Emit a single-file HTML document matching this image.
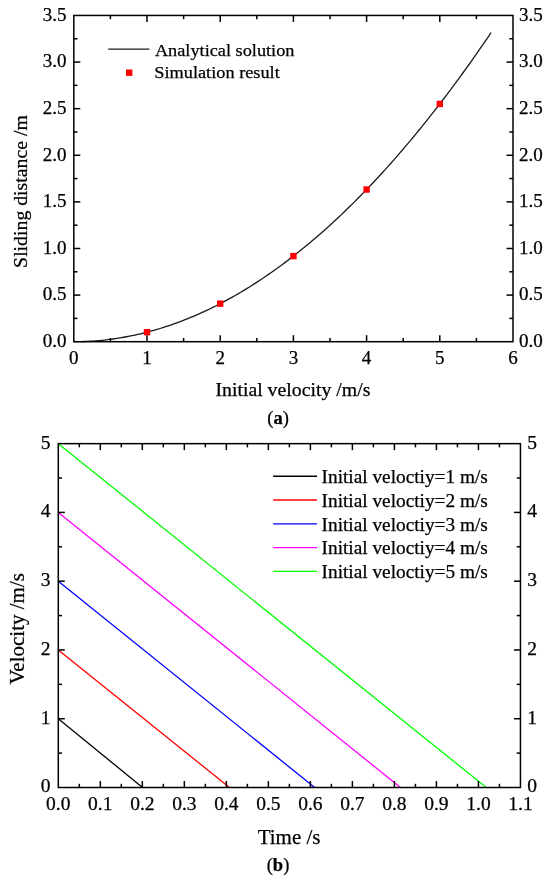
<!DOCTYPE html>
<html><head><meta charset="utf-8"><title>Sliding distance and velocity plots</title><style>
html,body{margin:0;padding:0;background:#fff;}
svg{display:block;}
text{font-family:"Liberation Serif", "Times New Roman", serif;fill:#000;stroke:#000;stroke-width:0.25px;}
</style></head><body>
<svg width="550" height="880" viewBox="0 0 550 880">
<rect width="550" height="880" fill="#fff"/>
<polyline points="73.80,341.70 76.58,341.69 79.36,341.65 82.14,341.58 84.93,341.48 87.71,341.36 90.49,341.21 93.27,341.03 96.05,340.82 98.83,340.59 101.62,340.33 104.40,340.04 107.18,339.72 109.96,339.38 112.74,339.01 115.52,338.61 118.31,338.18 121.09,337.73 123.87,337.25 126.65,336.74 129.43,336.21 132.21,335.64 135.00,335.05 137.78,334.43 140.56,333.79 143.34,333.12 146.12,332.42 148.90,331.69 151.68,330.93 154.47,330.15 157.25,329.34 160.03,328.50 162.81,327.64 165.59,326.74 168.37,325.82 171.16,324.87 173.94,323.90 176.72,322.90 179.50,321.87 182.28,320.81 185.06,319.72 187.85,318.61 190.63,317.47 193.41,316.30 196.19,315.11 198.97,313.89 201.75,312.64 204.54,311.36 207.32,310.05 210.10,308.72 212.88,307.36 215.66,305.98 218.44,304.56 221.22,303.12 224.01,301.65 226.79,300.15 229.57,298.63 232.35,297.08 235.13,295.50 237.91,293.89 240.70,292.25 243.48,290.59 246.26,288.90 249.04,287.19 251.82,285.44 254.60,283.67 257.39,281.87 260.17,280.04 262.95,278.19 265.73,276.31 268.51,274.40 271.29,272.46 274.08,270.50 276.86,268.51 279.64,266.49 282.42,264.44 285.20,262.37 287.98,260.27 290.76,258.14 293.55,255.98 296.33,253.80 299.11,251.59 301.89,249.35 304.67,247.08 307.45,244.79 310.24,242.47 313.02,240.12 315.80,237.74 318.58,235.34 321.36,232.91 324.14,230.45 326.93,227.96 329.71,225.45 332.49,222.91 335.27,220.34 338.05,217.74 340.83,215.12 343.62,212.47 346.40,209.79 349.18,207.08 351.96,204.35 354.74,201.59 357.52,198.80 360.30,195.99 363.09,193.14 365.87,190.27 368.65,187.38 371.43,184.45 374.21,181.50 376.99,178.52 379.78,175.51 382.56,172.47 385.34,169.41 388.12,166.32 390.90,163.20 393.68,160.06 396.47,156.88 399.25,153.68 402.03,150.46 404.81,147.20 407.59,143.92 410.37,140.61 413.16,137.27 415.94,133.91 418.72,130.51 421.50,127.09 424.28,123.65 427.06,120.17 429.84,116.67 432.63,113.14 435.41,109.58 438.19,106.00 440.97,102.38 443.75,98.74 446.53,95.08 449.32,91.38 452.10,87.66 454.88,83.91 457.66,80.13 460.44,76.33 463.22,72.50 466.01,68.64 468.79,64.75 471.57,60.84 474.35,56.89 477.13,52.92 479.91,48.93 482.70,44.90 485.48,40.85 488.26,36.77 491.04,32.67" fill="none" stroke="#1a1a1a" stroke-width="1.3"/>
<rect x="143.80" y="328.99" width="6.4" height="6.4" fill="#ff0000"/>
<rect x="217.00" y="300.45" width="6.4" height="6.4" fill="#ff0000"/>
<rect x="290.20" y="252.90" width="6.4" height="6.4" fill="#ff0000"/>
<rect x="363.40" y="186.31" width="6.4" height="6.4" fill="#ff0000"/>
<rect x="436.60" y="100.71" width="6.4" height="6.4" fill="#ff0000"/>
<line x1="110.40" y1="341.70" x2="110.40" y2="338.00" stroke="#000" stroke-width="1.5" />
<line x1="110.40" y1="15.45" x2="110.40" y2="19.15" stroke="#000" stroke-width="1.5" />
<line x1="147.00" y1="341.70" x2="147.00" y2="335.20" stroke="#000" stroke-width="1.5" />
<line x1="147.00" y1="15.45" x2="147.00" y2="21.95" stroke="#000" stroke-width="1.5" />
<line x1="183.60" y1="341.70" x2="183.60" y2="338.00" stroke="#000" stroke-width="1.5" />
<line x1="183.60" y1="15.45" x2="183.60" y2="19.15" stroke="#000" stroke-width="1.5" />
<line x1="220.20" y1="341.70" x2="220.20" y2="335.20" stroke="#000" stroke-width="1.5" />
<line x1="220.20" y1="15.45" x2="220.20" y2="21.95" stroke="#000" stroke-width="1.5" />
<line x1="256.80" y1="341.70" x2="256.80" y2="338.00" stroke="#000" stroke-width="1.5" />
<line x1="256.80" y1="15.45" x2="256.80" y2="19.15" stroke="#000" stroke-width="1.5" />
<line x1="293.40" y1="341.70" x2="293.40" y2="335.20" stroke="#000" stroke-width="1.5" />
<line x1="293.40" y1="15.45" x2="293.40" y2="21.95" stroke="#000" stroke-width="1.5" />
<line x1="330.00" y1="341.70" x2="330.00" y2="338.00" stroke="#000" stroke-width="1.5" />
<line x1="330.00" y1="15.45" x2="330.00" y2="19.15" stroke="#000" stroke-width="1.5" />
<line x1="366.60" y1="341.70" x2="366.60" y2="335.20" stroke="#000" stroke-width="1.5" />
<line x1="366.60" y1="15.45" x2="366.60" y2="21.95" stroke="#000" stroke-width="1.5" />
<line x1="403.20" y1="341.70" x2="403.20" y2="338.00" stroke="#000" stroke-width="1.5" />
<line x1="403.20" y1="15.45" x2="403.20" y2="19.15" stroke="#000" stroke-width="1.5" />
<line x1="439.80" y1="341.70" x2="439.80" y2="335.20" stroke="#000" stroke-width="1.5" />
<line x1="439.80" y1="15.45" x2="439.80" y2="21.95" stroke="#000" stroke-width="1.5" />
<line x1="476.40" y1="341.70" x2="476.40" y2="338.00" stroke="#000" stroke-width="1.5" />
<line x1="476.40" y1="15.45" x2="476.40" y2="19.15" stroke="#000" stroke-width="1.5" />
<line x1="73.80" y1="318.40" x2="77.50" y2="318.40" stroke="#000" stroke-width="1.5" />
<line x1="513.00" y1="318.40" x2="509.30" y2="318.40" stroke="#000" stroke-width="1.5" />
<line x1="73.80" y1="295.09" x2="80.30" y2="295.09" stroke="#000" stroke-width="1.5" />
<line x1="513.00" y1="295.09" x2="506.50" y2="295.09" stroke="#000" stroke-width="1.5" />
<line x1="73.80" y1="271.79" x2="77.50" y2="271.79" stroke="#000" stroke-width="1.5" />
<line x1="513.00" y1="271.79" x2="509.30" y2="271.79" stroke="#000" stroke-width="1.5" />
<line x1="73.80" y1="248.49" x2="80.30" y2="248.49" stroke="#000" stroke-width="1.5" />
<line x1="513.00" y1="248.49" x2="506.50" y2="248.49" stroke="#000" stroke-width="1.5" />
<line x1="73.80" y1="225.18" x2="77.50" y2="225.18" stroke="#000" stroke-width="1.5" />
<line x1="513.00" y1="225.18" x2="509.30" y2="225.18" stroke="#000" stroke-width="1.5" />
<line x1="73.80" y1="201.88" x2="80.30" y2="201.88" stroke="#000" stroke-width="1.5" />
<line x1="513.00" y1="201.88" x2="506.50" y2="201.88" stroke="#000" stroke-width="1.5" />
<line x1="73.80" y1="178.57" x2="77.50" y2="178.57" stroke="#000" stroke-width="1.5" />
<line x1="513.00" y1="178.57" x2="509.30" y2="178.57" stroke="#000" stroke-width="1.5" />
<line x1="73.80" y1="155.27" x2="80.30" y2="155.27" stroke="#000" stroke-width="1.5" />
<line x1="513.00" y1="155.27" x2="506.50" y2="155.27" stroke="#000" stroke-width="1.5" />
<line x1="73.80" y1="131.97" x2="77.50" y2="131.97" stroke="#000" stroke-width="1.5" />
<line x1="513.00" y1="131.97" x2="509.30" y2="131.97" stroke="#000" stroke-width="1.5" />
<line x1="73.80" y1="108.66" x2="80.30" y2="108.66" stroke="#000" stroke-width="1.5" />
<line x1="513.00" y1="108.66" x2="506.50" y2="108.66" stroke="#000" stroke-width="1.5" />
<line x1="73.80" y1="85.36" x2="77.50" y2="85.36" stroke="#000" stroke-width="1.5" />
<line x1="513.00" y1="85.36" x2="509.30" y2="85.36" stroke="#000" stroke-width="1.5" />
<line x1="73.80" y1="62.06" x2="80.30" y2="62.06" stroke="#000" stroke-width="1.5" />
<line x1="513.00" y1="62.06" x2="506.50" y2="62.06" stroke="#000" stroke-width="1.5" />
<line x1="73.80" y1="38.75" x2="77.50" y2="38.75" stroke="#000" stroke-width="1.5" />
<line x1="513.00" y1="38.75" x2="509.30" y2="38.75" stroke="#000" stroke-width="1.5" />
<rect x="73.80" y="15.45" width="439.20" height="326.25" fill="none" stroke="#000" stroke-width="1.5"/>
<text x="73.80" y="363.50" font-size="19" text-anchor="middle" >0</text>
<text x="147.00" y="363.50" font-size="19" text-anchor="middle" >1</text>
<text x="220.20" y="363.50" font-size="19" text-anchor="middle" >2</text>
<text x="293.40" y="363.50" font-size="19" text-anchor="middle" >3</text>
<text x="366.60" y="363.50" font-size="19" text-anchor="middle" >4</text>
<text x="439.80" y="363.50" font-size="19" text-anchor="middle" >5</text>
<text x="513.00" y="363.50" font-size="19" text-anchor="middle" >6</text>
<text x="66.50" y="347.00" font-size="19" text-anchor="end" >0.0</text>
<text x="519.10" y="347.00" font-size="19" text-anchor="start" >0.0</text>
<text x="66.50" y="300.39" font-size="19" text-anchor="end" >0.5</text>
<text x="519.10" y="300.39" font-size="19" text-anchor="start" >0.5</text>
<text x="66.50" y="253.79" font-size="19" text-anchor="end" >1.0</text>
<text x="519.10" y="253.79" font-size="19" text-anchor="start" >1.0</text>
<text x="66.50" y="207.18" font-size="19" text-anchor="end" >1.5</text>
<text x="519.10" y="207.18" font-size="19" text-anchor="start" >1.5</text>
<text x="66.50" y="160.57" font-size="19" text-anchor="end" >2.0</text>
<text x="519.10" y="160.57" font-size="19" text-anchor="start" >2.0</text>
<text x="66.50" y="113.96" font-size="19" text-anchor="end" >2.5</text>
<text x="519.10" y="113.96" font-size="19" text-anchor="start" >2.5</text>
<text x="66.50" y="67.36" font-size="19" text-anchor="end" >3.0</text>
<text x="519.10" y="67.36" font-size="19" text-anchor="start" >3.0</text>
<text x="66.50" y="20.75" font-size="19" text-anchor="end" >3.5</text>
<text x="519.10" y="20.75" font-size="19" text-anchor="start" >3.5</text>
<line x1="108.20" y1="49.20" x2="149.50" y2="49.20" stroke="#1a1a1a" stroke-width="1.3" />
<rect x="126.00" y="69.50" width="6.4" height="6.4" fill="#ff0000"/>
<text x="154.90" y="55.80" font-size="17.6" text-anchor="start" textLength="139.6" lengthAdjust="spacingAndGlyphs">Analytical solution</text>
<text x="154.30" y="78.10" font-size="17.6" text-anchor="start" textLength="125.5" lengthAdjust="spacingAndGlyphs">Simulation result</text>
<text x="292.90" y="396.30" font-size="19.8" text-anchor="middle" >Initial velocity /m/s</text>
<text x="0" y="0" font-size="19.8" text-anchor="middle" transform="translate(26.8,191.5) rotate(-90)">Sliding distance /m</text>
<text x="278" y="423.7" font-size="18.5" text-anchor="middle">(<tspan font-weight="bold">a</tspan>)</text>
<line x1="58.30" y1="718.73" x2="142.54" y2="787.50" stroke="#000000" stroke-width="1.3" />
<line x1="58.30" y1="649.96" x2="229.51" y2="787.50" stroke="#ff0000" stroke-width="1.3" />
<line x1="58.30" y1="581.19" x2="314.71" y2="787.50" stroke="#0000ff" stroke-width="1.3" />
<line x1="58.30" y1="512.42" x2="400.50" y2="787.50" stroke="#ff00ff" stroke-width="1.3" />
<line x1="58.30" y1="443.65" x2="486.33" y2="787.50" stroke="#00ff00" stroke-width="1.3" />
<line x1="79.31" y1="787.50" x2="79.31" y2="783.80" stroke="#000" stroke-width="1.5" />
<line x1="79.31" y1="443.65" x2="79.31" y2="447.35" stroke="#000" stroke-width="1.5" />
<line x1="100.31" y1="787.50" x2="100.31" y2="781.00" stroke="#000" stroke-width="1.5" />
<line x1="100.31" y1="443.65" x2="100.31" y2="450.15" stroke="#000" stroke-width="1.5" />
<line x1="121.32" y1="787.50" x2="121.32" y2="783.80" stroke="#000" stroke-width="1.5" />
<line x1="121.32" y1="443.65" x2="121.32" y2="447.35" stroke="#000" stroke-width="1.5" />
<line x1="142.33" y1="787.50" x2="142.33" y2="781.00" stroke="#000" stroke-width="1.5" />
<line x1="142.33" y1="443.65" x2="142.33" y2="450.15" stroke="#000" stroke-width="1.5" />
<line x1="163.33" y1="787.50" x2="163.33" y2="783.80" stroke="#000" stroke-width="1.5" />
<line x1="163.33" y1="443.65" x2="163.33" y2="447.35" stroke="#000" stroke-width="1.5" />
<line x1="184.34" y1="787.50" x2="184.34" y2="781.00" stroke="#000" stroke-width="1.5" />
<line x1="184.34" y1="443.65" x2="184.34" y2="450.15" stroke="#000" stroke-width="1.5" />
<line x1="205.35" y1="787.50" x2="205.35" y2="783.80" stroke="#000" stroke-width="1.5" />
<line x1="205.35" y1="443.65" x2="205.35" y2="447.35" stroke="#000" stroke-width="1.5" />
<line x1="226.35" y1="787.50" x2="226.35" y2="781.00" stroke="#000" stroke-width="1.5" />
<line x1="226.35" y1="443.65" x2="226.35" y2="450.15" stroke="#000" stroke-width="1.5" />
<line x1="247.36" y1="787.50" x2="247.36" y2="783.80" stroke="#000" stroke-width="1.5" />
<line x1="247.36" y1="443.65" x2="247.36" y2="447.35" stroke="#000" stroke-width="1.5" />
<line x1="268.37" y1="787.50" x2="268.37" y2="781.00" stroke="#000" stroke-width="1.5" />
<line x1="268.37" y1="443.65" x2="268.37" y2="450.15" stroke="#000" stroke-width="1.5" />
<line x1="289.38" y1="787.50" x2="289.38" y2="783.80" stroke="#000" stroke-width="1.5" />
<line x1="289.38" y1="443.65" x2="289.38" y2="447.35" stroke="#000" stroke-width="1.5" />
<line x1="310.38" y1="787.50" x2="310.38" y2="781.00" stroke="#000" stroke-width="1.5" />
<line x1="310.38" y1="443.65" x2="310.38" y2="450.15" stroke="#000" stroke-width="1.5" />
<line x1="331.39" y1="787.50" x2="331.39" y2="783.80" stroke="#000" stroke-width="1.5" />
<line x1="331.39" y1="443.65" x2="331.39" y2="447.35" stroke="#000" stroke-width="1.5" />
<line x1="352.40" y1="787.50" x2="352.40" y2="781.00" stroke="#000" stroke-width="1.5" />
<line x1="352.40" y1="443.65" x2="352.40" y2="450.15" stroke="#000" stroke-width="1.5" />
<line x1="373.40" y1="787.50" x2="373.40" y2="783.80" stroke="#000" stroke-width="1.5" />
<line x1="373.40" y1="443.65" x2="373.40" y2="447.35" stroke="#000" stroke-width="1.5" />
<line x1="394.41" y1="787.50" x2="394.41" y2="781.00" stroke="#000" stroke-width="1.5" />
<line x1="394.41" y1="443.65" x2="394.41" y2="450.15" stroke="#000" stroke-width="1.5" />
<line x1="415.42" y1="787.50" x2="415.42" y2="783.80" stroke="#000" stroke-width="1.5" />
<line x1="415.42" y1="443.65" x2="415.42" y2="447.35" stroke="#000" stroke-width="1.5" />
<line x1="436.42" y1="787.50" x2="436.42" y2="781.00" stroke="#000" stroke-width="1.5" />
<line x1="436.42" y1="443.65" x2="436.42" y2="450.15" stroke="#000" stroke-width="1.5" />
<line x1="457.43" y1="787.50" x2="457.43" y2="783.80" stroke="#000" stroke-width="1.5" />
<line x1="457.43" y1="443.65" x2="457.43" y2="447.35" stroke="#000" stroke-width="1.5" />
<line x1="478.44" y1="787.50" x2="478.44" y2="781.00" stroke="#000" stroke-width="1.5" />
<line x1="478.44" y1="443.65" x2="478.44" y2="450.15" stroke="#000" stroke-width="1.5" />
<line x1="499.44" y1="787.50" x2="499.44" y2="783.80" stroke="#000" stroke-width="1.5" />
<line x1="499.44" y1="443.65" x2="499.44" y2="447.35" stroke="#000" stroke-width="1.5" />
<line x1="58.30" y1="753.12" x2="62.00" y2="753.12" stroke="#000" stroke-width="1.5" />
<line x1="520.45" y1="753.12" x2="516.75" y2="753.12" stroke="#000" stroke-width="1.5" />
<line x1="58.30" y1="718.73" x2="64.80" y2="718.73" stroke="#000" stroke-width="1.5" />
<line x1="520.45" y1="718.73" x2="513.95" y2="718.73" stroke="#000" stroke-width="1.5" />
<line x1="58.30" y1="684.35" x2="62.00" y2="684.35" stroke="#000" stroke-width="1.5" />
<line x1="520.45" y1="684.35" x2="516.75" y2="684.35" stroke="#000" stroke-width="1.5" />
<line x1="58.30" y1="649.96" x2="64.80" y2="649.96" stroke="#000" stroke-width="1.5" />
<line x1="520.45" y1="649.96" x2="513.95" y2="649.96" stroke="#000" stroke-width="1.5" />
<line x1="58.30" y1="615.58" x2="62.00" y2="615.58" stroke="#000" stroke-width="1.5" />
<line x1="520.45" y1="615.58" x2="516.75" y2="615.58" stroke="#000" stroke-width="1.5" />
<line x1="58.30" y1="581.19" x2="64.80" y2="581.19" stroke="#000" stroke-width="1.5" />
<line x1="520.45" y1="581.19" x2="513.95" y2="581.19" stroke="#000" stroke-width="1.5" />
<line x1="58.30" y1="546.80" x2="62.00" y2="546.80" stroke="#000" stroke-width="1.5" />
<line x1="520.45" y1="546.80" x2="516.75" y2="546.80" stroke="#000" stroke-width="1.5" />
<line x1="58.30" y1="512.42" x2="64.80" y2="512.42" stroke="#000" stroke-width="1.5" />
<line x1="520.45" y1="512.42" x2="513.95" y2="512.42" stroke="#000" stroke-width="1.5" />
<line x1="58.30" y1="478.03" x2="62.00" y2="478.03" stroke="#000" stroke-width="1.5" />
<line x1="520.45" y1="478.03" x2="516.75" y2="478.03" stroke="#000" stroke-width="1.5" />
<rect x="58.30" y="443.65" width="462.15" height="343.85" fill="none" stroke="#000" stroke-width="1.5"/>
<text x="58.30" y="810.00" font-size="19.5" text-anchor="middle" >0.0</text>
<text x="100.31" y="810.00" font-size="19.5" text-anchor="middle" >0.1</text>
<text x="142.33" y="810.00" font-size="19.5" text-anchor="middle" >0.2</text>
<text x="184.34" y="810.00" font-size="19.5" text-anchor="middle" >0.3</text>
<text x="226.35" y="810.00" font-size="19.5" text-anchor="middle" >0.4</text>
<text x="268.37" y="810.00" font-size="19.5" text-anchor="middle" >0.5</text>
<text x="310.38" y="810.00" font-size="19.5" text-anchor="middle" >0.6</text>
<text x="352.40" y="810.00" font-size="19.5" text-anchor="middle" >0.7</text>
<text x="394.41" y="810.00" font-size="19.5" text-anchor="middle" >0.8</text>
<text x="436.42" y="810.00" font-size="19.5" text-anchor="middle" >0.9</text>
<text x="478.44" y="810.00" font-size="19.5" text-anchor="middle" >1.0</text>
<text x="520.45" y="810.00" font-size="19.5" text-anchor="middle" >1.1</text>
<text x="50.60" y="792.40" font-size="19.5" text-anchor="end" >0</text>
<text x="527.20" y="792.40" font-size="19.5" text-anchor="start" >0</text>
<text x="50.60" y="723.63" font-size="19.5" text-anchor="end" >1</text>
<text x="527.20" y="723.63" font-size="19.5" text-anchor="start" >1</text>
<text x="50.60" y="654.86" font-size="19.5" text-anchor="end" >2</text>
<text x="527.20" y="654.86" font-size="19.5" text-anchor="start" >2</text>
<text x="50.60" y="586.09" font-size="19.5" text-anchor="end" >3</text>
<text x="527.20" y="586.09" font-size="19.5" text-anchor="start" >3</text>
<text x="50.60" y="517.32" font-size="19.5" text-anchor="end" >4</text>
<text x="527.20" y="517.32" font-size="19.5" text-anchor="start" >4</text>
<text x="50.60" y="448.55" font-size="19.5" text-anchor="end" >5</text>
<text x="527.20" y="448.55" font-size="19.5" text-anchor="start" >5</text>
<line x1="273.20" y1="476.20" x2="317.10" y2="476.20" stroke="#000000" stroke-width="1.35" />
<text x="321.60" y="482.90" font-size="19.4" text-anchor="start" textLength="166.2" lengthAdjust="spacingAndGlyphs">Initial veloctiy=1 m/s</text>
<line x1="273.20" y1="500.00" x2="317.10" y2="500.00" stroke="#ff0000" stroke-width="1.35" />
<text x="321.60" y="506.70" font-size="19.4" text-anchor="start" textLength="166.2" lengthAdjust="spacingAndGlyphs">Initial veloctiy=2 m/s</text>
<line x1="273.20" y1="523.80" x2="317.10" y2="523.80" stroke="#0000ff" stroke-width="1.35" />
<text x="321.60" y="530.50" font-size="19.4" text-anchor="start" textLength="166.2" lengthAdjust="spacingAndGlyphs">Initial veloctiy=3 m/s</text>
<line x1="273.20" y1="547.60" x2="317.10" y2="547.60" stroke="#ff00ff" stroke-width="1.35" />
<text x="321.60" y="554.30" font-size="19.4" text-anchor="start" textLength="166.2" lengthAdjust="spacingAndGlyphs">Initial veloctiy=4 m/s</text>
<line x1="273.20" y1="571.40" x2="317.10" y2="571.40" stroke="#00ff00" stroke-width="1.35" />
<text x="321.60" y="578.10" font-size="19.4" text-anchor="start" textLength="166.2" lengthAdjust="spacingAndGlyphs">Initial veloctiy=5 m/s</text>
<text x="289.10" y="844.40" font-size="21" text-anchor="middle" >Time /s</text>
<text x="0" y="0" font-size="21" text-anchor="middle" transform="translate(23.6,628.8) rotate(-90)">Velocity /m/s</text>
<text x="278" y="871.4" font-size="18.5" text-anchor="middle">(<tspan font-weight="bold">b</tspan>)</text>
</svg>
</body></html>
